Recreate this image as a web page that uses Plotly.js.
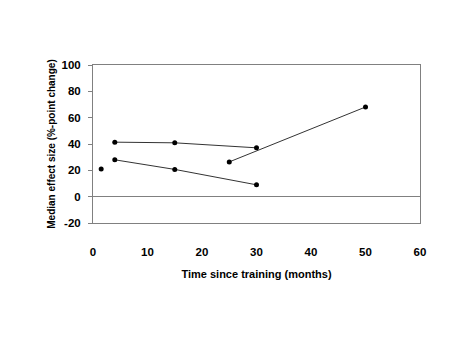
<!DOCTYPE html>
<html><head><meta charset="utf-8">
<script src="https://cdn.plot.ly/plotly-3.0.1.min.js"></script>
<style>html,body{margin:0;padding:0;background:#fff;}#chart{width:474px;height:355px;}</style>
</head><body><div id="chart"></div>
<script>
const upperX = [4, 15, 30];
const upperY = [41.4, 40.9, 37.1];
const lowerX = [4, 15, 30];
const lowerY = [28.0, 20.7, 9.0];
const risingX = [25, 50];
const risingY = [26.4, 68.1];
const singleX = [1.5];
const singleY = [21.1];
const xTicks = [0, 10, 20, 30, 40, 50, 60];
const yTicks = [-20, 0, 20, 40, 60, 80, 100];

const lineStyle = {color: '#333333', width: 1};
const markerStyle = {color: '#000000', size: 5};
function tr(x, y, mode) {
  return {x: x, y: y, mode: mode, type: 'scatter', line: lineStyle, marker: markerStyle, hoverinfo: 'none'};
}
const data = [
  tr(upperX, upperY, 'lines+markers'),
  tr(lowerX, lowerY, 'lines+markers'),
  tr(risingX, risingY, 'lines+markers'),
  tr(singleX, singleY, 'markers')
];
const font = {family: 'Liberation Sans, Arial, sans-serif', color: '#000'};
const layout = {
  width: 474, height: 355,
  margin: {l: 93, r: 54, t: 65, b: 132},
  paper_bgcolor: '#fff', plot_bgcolor: '#fff',
  showlegend: false,
  font: font,
  xaxis: {
    range: [0, 60], tickvals: xTicks, ticktext: xTicks.map(String),
    showgrid: false, zeroline: false,
    showline: true, linecolor: '#808080', linewidth: 1, mirror: true,
    ticks: '', ticklabelstandoff: 18,
    tickfont: {family: font.family, size: 11.5, weight: 'bold', color: '#000'},
    title: {text: 'Time since training (months)', standoff: 13,
      font: {family: font.family, size: 11, weight: 'bold', color: '#000'}}
  },
  yaxis: {
    range: [-20, 100], tickvals: yTicks, ticktext: yTicks.map(String),
    showgrid: false, zeroline: true, zerolinecolor: '#808080', zerolinewidth: 1,
    showline: true, linecolor: '#808080', linewidth: 1, mirror: true,
    ticks: 'outside', ticklen: 4, tickcolor: '#808080', ticklabelstandoff: 5,
    tickfont: {family: font.family, size: 11.5, weight: 'bold', color: '#000'},
    title: {text: 'Median effect size (%-point change)', standoff: 4,
      font: {family: font.family, size: 10, weight: 'bold', color: '#000'}}
  }
};
Plotly.newPlot('chart', data, layout, {displayModeBar: false, staticPlot: true});
</script></body></html>
